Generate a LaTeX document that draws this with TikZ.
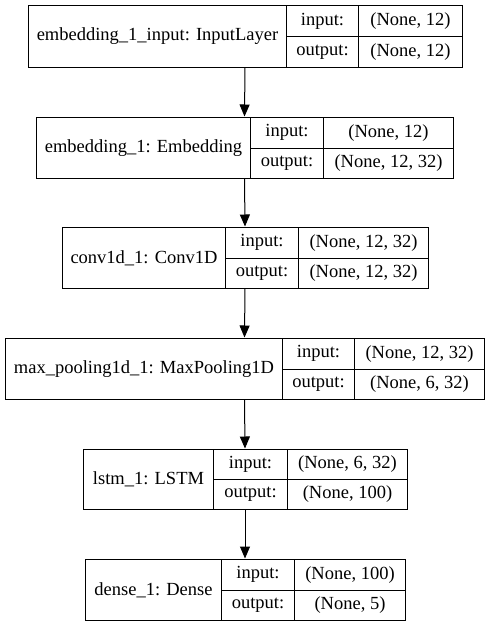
\documentclass[tikz,border=0pt]{standalone}
\usepackage{fontspec}
\setmainfont{Liberation Serif}
\usetikzlibrary{arrows.meta}

\begin{document}
\begin{tikzpicture}
	[x=1pt, y=-1pt, line width=1pt,
	layer_style/.style={draw, inner sep=0pt},
	cell_style/.style={draw, inner sep=0pt, anchor=north west, font=\fontsize{18.5}{20}\selectfont},
	edge_style/.style={draw=black, line width=1pt, -{Triangle[length=12pt, width=10pt]}}]
	\useasboundingbox (0,0) rectangle (489,627);

	% embedding_1_input
	\node[layer_style, minimum width=434pt, minimum height=62pt] (L1) at (245,36) {};
	\node[cell_style, minimum width=258pt, minimum height=62pt] (n1) at (28,5) {embedding\_1\_input: InputLayer};
	\node[cell_style, minimum width=72pt, minimum height=31pt] (i1) at (286,5) {input:};
	\node[cell_style, minimum width=72pt, minimum height=31pt] (o1) at (286,36) {output:};
	\node[cell_style, minimum width=104pt, minimum height=31pt] (iv1) at (358,5) {(None, 12)};
	\node[cell_style, minimum width=104pt, minimum height=31pt] (ov1) at (358,36) {(None, 12)};

	% embedding_1
	\node[layer_style, minimum width=417pt, minimum height=61pt] (L2) at (244.5,147.5) {};
	\node[cell_style, minimum width=214pt, minimum height=61pt] (n2) at (36,117) {embedding\_1: Embedding};
	\node[cell_style, minimum width=73pt, minimum height=30.5pt] (i2) at (250,117) {input:};
	\node[cell_style, minimum width=73pt, minimum height=30.5pt] (o2) at (250,147.5) {output:};
	\node[cell_style, minimum width=130pt, minimum height=30.5pt] (iv2) at (323,117) {(None, 12)};
	\node[cell_style, minimum width=130pt, minimum height=30.5pt] (ov2) at (323,147.5) {(None, 12, 32)};

	% conv1d_1
	\node[layer_style, minimum width=366pt, minimum height=61pt] (L3) at (245,257.5) {};
	\node[cell_style, minimum width=163pt, minimum height=61pt] (n3) at (62,227) {conv1d\_1: Conv1D};
	\node[cell_style, minimum width=73pt, minimum height=30.5pt] (i3) at (225,227) {input:};
	\node[cell_style, minimum width=73pt, minimum height=30.5pt] (o3) at (225,257.5) {output:};
	\node[cell_style, minimum width=130pt, minimum height=30.5pt] (iv3) at (298,227) {(None, 12, 32)};
	\node[cell_style, minimum width=130pt, minimum height=30.5pt] (ov3) at (298,257.5) {(None, 12, 32)};

	% max_pooling1d_1
	\node[layer_style, minimum width=479pt, minimum height=61pt] (L4) at (244.5,368.5) {};
	\node[cell_style, minimum width=277pt, minimum height=61pt] (n4) at (5,338) {max\_pooling1d\_1: MaxPooling1D};
	\node[cell_style, minimum width=72pt, minimum height=30.5pt] (i4) at (282,338) {input:};
	\node[cell_style, minimum width=72pt, minimum height=30.5pt] (o4) at (282,368.5) {output:};
	\node[cell_style, minimum width=130pt, minimum height=30.5pt] (iv4) at (354,338) {(None, 12, 32)};
	\node[cell_style, minimum width=130pt, minimum height=30.5pt] (ov4) at (354,368.5) {(None, 6, 32)};

	% lstm_1
	\node[layer_style, minimum width=324pt, minimum height=60pt] (L5) at (245,479) {};
	\node[cell_style, minimum width=130pt, minimum height=60pt] (n5) at (83,449) {lstm\_1: LSTM};
	\node[cell_style, minimum width=74pt, minimum height=30pt] (i5) at (213,449) {input:};
	\node[cell_style, minimum width=74pt, minimum height=30pt] (o5) at (213,479) {output:};
	\node[cell_style, minimum width=120pt, minimum height=30pt] (iv5) at (287,449) {(None, 6, 32)};
	\node[cell_style, minimum width=120pt, minimum height=30pt] (ov5) at (287,479) {(None, 100)};

	% dense_1
	\node[layer_style, minimum width=320pt, minimum height=61pt] (L6) at (245,589.5) {};
	\node[cell_style, minimum width=136pt, minimum height=61pt] (n6) at (85,559) {dense\_1: Dense};
	\node[cell_style, minimum width=73pt, minimum height=30.5pt] (i6) at (221,559) {input:};
	\node[cell_style, minimum width=73pt, minimum height=30.5pt] (o6) at (221,589.5) {output:};
	\node[cell_style, minimum width=111pt, minimum height=30.5pt] (iv6) at (294,559) {(None, 100)};
	\node[cell_style, minimum width=111pt, minimum height=30.5pt] (ov6) at (294,589.5) {(None, 5)};

	\draw[edge_style] (L1.south) -- (L2.north);
	\draw[edge_style] (L2.south) -- (L3.north);
	\draw[edge_style] (L3.south) -- (L4.north);
	\draw[edge_style] (L4.south) -- (L5.north);
	\draw[edge_style] (L5.south) -- (L6.north);
\end{tikzpicture}
\end{document}
